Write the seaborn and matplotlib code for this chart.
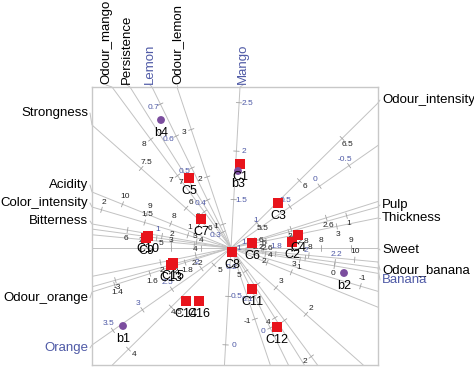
import numpy as np
import pandas as pd
import matplotlib
matplotlib.use("Agg")
import matplotlib.pyplot as plt
import seaborn as sns

# ---------------- data ----------------
axis_names = ["Odour_mango", "Persistence", "Lemon", "Odour_lemon", "Mango",
              "Odour_intensity", "Pulp", "Thickness", "Sweet", "Odour_banana", "Banana",
              "Strongness", "Acidity", "Color_intensity", "Bitterness", "Odour_orange", "Orange"]
axis_is_response = [False, False, True, False, True,
                    False, False, False, False, False, True,
                    False, False, False, False, False, True]
# axis directions (biplot loadings)
axis_load_x = [-1.19, -1.01, -0.79, -0.54, 0.09,
               1.47, 1.47, 1.47, 1.47, 1.47, 1.47,
               -1.39, -1.39, -1.39, -1.39, -1.39, -1.39]
axis_load_y = [1.61, 1.61, 1.61, 1.61, 1.61,
               1.45, 0.41, 0.30, 0.00, -0.14, -0.20,
               1.23, 0.56, 0.41, 0.24, -0.44, -0.97]
# calibration: value at the origin and plot units per unit of the variable
axis_mean = [5.0, 5.5, 0.25, 0.5, 1.0,
             5.2, -1.0, 2.4, 5.0, 4.6, 1.5,
             4.5, 5.5, 0.5, 3.0, 2.06, 1.5]
axis_scale = [0.45, 0.55, 3.56, 0.50, 0.97,
              1.20, 0.60, 1.80, 0.30, 0.23, 1.50,
              0.40, 0.26, 0.90, 0.35, -1.85, 0.72]
axis_ticks = [
    [2, 3, 4, 6, 7, 8],
    [3, 4, 5, 6, 7],
    [0, 0.1, 0.2, 0.3, 0.4, 0.5, 0.6, 0.7],
    [-2, -1, 1, 2, 3],
    [0, 0.5, 1, 1.5, 2, 2.5],
    [4, 4.5, 5, 5.5, 6, 6.5],
    [-3, -2, 0, 1],
    [2, 2.2, 2.6, 2.8, 3],
    [2, 3, 4, 6, 7, 8, 9],
    [2, 3, 6, 8, 10],
    [0.5, 1, 1.6, 1.8, 2, 2.2],
    [2, 3, 6, 7.5],
    [3, 4, 7, 8, 9, 10],
    [-1, 1, 1.5, 2],
    [0, 1, 2, 4, 5, 6],
    [1.4, 1.6, 1.8, 2.2, 2.4, 2.6],
    [-1, -0.5, 0, 0.5, 1, 2, 2.5, 3, 3.5],
]

sample_names = ["C1", "C2", "C3", "C4", "C5", "C6", "C7", "C8",
                "C9", "C10", "C11", "C12", "C13", "C14", "C15", "C16"]
sample_x = [0.09, 0.61, 0.47, 0.67, -0.42, 0.21, -0.30, 0.01,
            -0.85, -0.83, 0.21, 0.46, -0.60, -0.45, -0.58, -0.32]
sample_y = [0.84, 0.06, 0.45, 0.13, 0.70, 0.05, 0.29, -0.04,
            0.10, 0.12, -0.41, -0.79, -0.17, -0.53, -0.15, -0.53]

ref_names = ["b1", "b2", "b3", "b4"]
ref_x = [-1.08, 1.13, 0.07, -0.70]
ref_y = [-0.78, -0.25, 0.77, 1.28]

# ---------------- layout ----------------
CX, CY = 231, 248          # origin in pixels
def px2d(px, py):
    return (px - CX) / 100.0, (CY - py) / 100.0

label_side = ["top"] * 5 + ["right"] * 6 + ["left"] * 6
label_pix = [(106, 84), (127, 84), (150, 84), (177, 84), (243, 84),
             (382, 100), (382, 205), (382, 218), (382, 250), (382, 270), (382, 280),
             (88, 113), (88, 185), (88, 203), (88, 221), (88, 298), (88, 348)]
tick_side = [1, 1, 1, 1, -1,
             -1, -1, -1, 1, 1, 1,
             -1, -1, -1, 1, 1, -1]

BLUE = "#4f5aa6"
LINE = "#c2c2c2"
RED = "#e8141c"
PURPLE = "#7b4d9e"

sns.set_theme(style="white")
plt.rcParams["font.family"] = ["Liberation Sans", "DejaVu Sans"]

fig = plt.figure(figsize=(4.74, 3.67), dpi=100)
ax = fig.add_axes([92 / 474, 2 / 367, 286 / 474, 278 / 367])
xmin, xmax = -1.39, 1.47
ymin, ymax = -1.17, 1.61
ax.set_xlim(xmin, xmax)
ax.set_ylim(ymin, ymax)
ax.set_xticks([])
ax.set_yticks([])
for s in ax.spines.values():
    s.set_color("#c8c8c8")
    s.set_linewidth(1.0)


def exit_t(ux, uy):
    ts = []
    if ux > 1e-9:
        ts.append(xmax / ux)
    if ux < -1e-9:
        ts.append(xmin / ux)
    if uy > 1e-9:
        ts.append(ymax / uy)
    if uy < -1e-9:
        ts.append(ymin / uy)
    return min(ts)


for i, name in enumerate(axis_names):
    lx, ly = axis_load_x[i], axis_load_y[i]
    n = np.hypot(lx, ly)
    ux, uy = lx / n, ly / n
    tp = exit_t(ux, uy)
    tn = exit_t(-ux, -uy)
    ax.plot([-tn * ux, tp * ux], [-tn * uy, tp * uy], color=LINE, lw=0.7, zorder=1)
    # connector to label
    ex, ey = tp * ux, tp * uy
    lxp, lyp = label_pix[i]
    side = label_side[i]
    if side == "top":
        ax_, ay_ = px2d(lxp, lyp + 1)
    elif side == "left":
        ax_, ay_ = px2d(lxp + 2, lyp)
    else:
        ax_, ay_ = px2d(lxp - 2, lyp)
    ax.plot([ex, ax_], [ey, ay_], color=LINE, lw=0.7, clip_on=False, zorder=1)
    col = BLUE if axis_is_response[i] else "black"
    tx, ty = px2d(lxp, lyp)
    if side == "top":
        ax.text(tx, ty, name, rotation=90, ha="center", va="bottom", fontsize=9.5,
                color=col, clip_on=False)
    elif side == "left":
        ax.text(tx, ty, name, ha="right", va="center", fontsize=9.5, color=col, clip_on=False)
    else:
        ax.text(tx, ty, name, ha="left", va="center", fontsize=9.5, color=col, clip_on=False,
                linespacing=0.8)
    # calibrated ticks
    px_, py_ = -uy, ux
    tcol = BLUE if axis_is_response[i] else "#222222"
    for v in axis_ticks[i]:
        p = (v - axis_mean[i]) * axis_scale[i]
        if not (-tn + 0.03 < p < tp - 0.03):
            continue
        bx, by = p * ux, p * uy
        ax.plot([bx - 0.028 * px_, bx + 0.028 * px_], [by - 0.028 * py_, by + 0.028 * py_],
                color="#a0a0a0", lw=0.6, zorder=1)
        off = 0.08 * tick_side[i]
        ax.text(bx + off * px_, by + off * py_, f"{v:g}", fontsize=6, color=tcol,
                ha="center", va="center", zorder=2)

df_s = pd.DataFrame({"x": sample_x, "y": sample_y, "name": sample_names})
df_r = pd.DataFrame({"x": ref_x, "y": ref_y, "name": ref_names})
sns.scatterplot(data=df_s, x="x", y="y", marker="s", s=42, color=RED, edgecolor="none",
                ax=ax, zorder=3, legend=False)
sns.scatterplot(data=df_r, x="x", y="y", marker="o", s=32, color=PURPLE, edgecolor="none",
                ax=ax, zorder=3, legend=False)
for d in (df_s, df_r):
    for _, r in d.iterrows():
        ax.text(r["x"], r["y"] - 0.13, r["name"], fontsize=9, ha="center", va="center",
                color="black", zorder=4)

ax.set_xlabel("")
ax.set_ylabel("")
fig.savefig("out.png", dpi=100)
